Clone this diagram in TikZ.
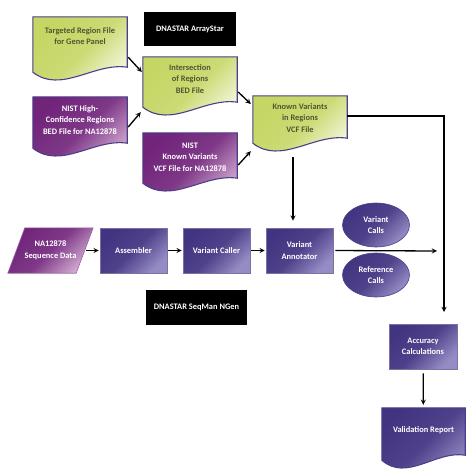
\documentclass[tikz,border=0pt]{standalone}
\usepackage{fontspec}
\setmainfont{Carlito}
\usetikzlibrary{arrows,positioning,shapes.geometric,calc,backgrounds}
\definecolor{greentop}{RGB}{198,214,100}
\definecolor{greenlow}{RGB}{246,248,226}
\definecolor{plumtop}{RGB}{112,36,122}
\definecolor{plumlow}{RGB}{210,172,210}
\definecolor{inktop}{RGB}{66,52,128}
\definecolor{inklow}{RGB}{150,140,196}
\definecolor{docedge}{RGB}{76,62,138}
\definecolor{docink}{RGB}{84,84,52}
\tikzset{node distance=83pt, auto}
% paper sheet with a wavy lower edge, drawn behind a node
\newcommand{\docshape}[3]{%
  \path[#1] (#2.north west) -- (#2.north east)
    -- ($(#2.south east)+(0,{#3-5})$)
    .. controls ($(#2.south west)!0.65!(#2.south east)+(0,{#3-10})$)
    and ($(#2.south west)!0.3!(#2.south east)+(0,{#3+22})$)
    .. ($(#2.south west)+(0,#3)$) -- cycle;}

\begin{document}
\begin{tikzpicture}[x=1pt, y=-1pt,
    font=\fontsize{8.4}{11.5}\selectfont\bfseries,
    doc/.style={align=center, inner sep=1pt, minimum width=94pt},
    greendoc/.style={doc, text=docink},
    plumdoc/.style={doc, text=white},
    greenshade/.style={draw=docedge, line width=1.1pt, top color=greentop, bottom color=greenlow, middle color=greentop!88!greenlow, shading angle=45},
    plumshade/.style={draw=docedge, line width=1.1pt, top color=plumtop, bottom color=plumlow, middle color=plumtop!85!plumlow, shading angle=45},
    inkshade/.style={draw=docedge, line width=1.1pt, top color=inktop, bottom color=inklow, middle color=inktop!85!inklow, shading angle=45},
    proc/.style={rectangle, draw=inktop!70!white, line width=0.6pt, top color=inktop, bottom color=inklow, middle color=inktop!85!inklow, shading angle=45, text=white, align=center, minimum width=67pt, minimum height=45pt, inner sep=1pt},
    seqdata/.style={rectangle, text=white, align=center, minimum width=85pt, minimum height=45pt, inner sep=1pt},
    seqshade/.style={draw=plumtop!70!white, line width=0.6pt, top color=plumtop, bottom color=plumlow, middle color=plumtop!85!plumlow, shading angle=45},
    calls/.style={proc, ellipse, minimum width=67pt, minimum height=44pt, inner sep=0pt, draw=docedge},
    tag/.style={rectangle, fill=black, text=white, inner sep=1pt},
    arr/.style={-stealth, line width=1.3pt}]
  \useasboundingbox (0,0) rectangle (474,474);

  % ArrayStar part
  \node (tgt) 		[greendoc, minimum height=38pt] at (80,36) 	{Targeted Region File\\for Gene Panel};
  \node (astar) 	[tag, minimum width=92pt, minimum height=34pt] at (190,29) {DNASTAR ArrayStar};
  \node (isect) 	[greendoc, minimum height=44pt] at (190,79) 	{Intersection\\of Regions\\BED File};
  \node (hcr) 		[plumdoc, minimum height=46pt] at (80,120) 	{NIST High-\\Confidence Regions\\BED File for NA12878};
  \node (nistvcf) [plumdoc, minimum height=48pt] at (190,157) 	{NIST\\Known Variants\\VCF File for NA12878};
  \node (known) 	[greendoc, minimum height=44pt] at (300,118) 	{Known Variants\\in Regions\\VCF File};
  %
  % SeqMan NGen part
  \node (na) 			[seqdata] at (50.5,250.5) 		{NA12878\\Sequence Data};
  \node (asm) 		[proc, right of=na] 				{Assembler};
  \node (caller) 	[proc, right of=asm] 				{Variant Caller};
  \node (ann) 		[proc, right of=caller] 		{Variant\\Annotator};
  \node (vcalls) 	[calls] at (376,225) 				{Variant\\Calls};
  \node (rcalls) 	[calls, below of=vcalls, node distance=50pt] {Reference\\Calls};
  \node (ngen) 		[tag, minimum width=101pt, minimum height=35pt] at (196.5,307.5) {DNASTAR SeqMan NGen};
  \node (acc) 		[proc, minimum width=68pt] at (423,346.5) {Accuracy\\Calculations};
  \node (valrep) 	[plumdoc, minimum width=83pt, minimum height=44pt] at (423.5,430) {Validation Report};
  \coordinate (accin) 		at (444,312);
  \coordinate (callsout) 	at (437,251);
  %
  \begin{pgfonlayer}{background}
    \docshape{greenshade}{tgt}{17}
    \docshape{greenshade}{isect}{6}
    \docshape{plumshade}{hcr}{5}
    \docshape{plumshade}{nistvcf}{2}
    \docshape{greenshade}{known}{3}
    \docshape{inkshade}{valrep}{8}
    \path[seqshade] (na.south west) -- ([xshift=17pt]na.north west) -- (na.north east) -- ([xshift=-17pt]na.south east) -- cycle;
  \end{pgfonlayer}
  %
  \draw[arr] ([xshift=1pt,yshift=-2pt]tgt.south east) 	to ([xshift=-1pt,yshift=7pt]isect.west);
  \draw[arr] ([xshift=1pt,yshift=-7pt]hcr.east) 				to ([xshift=-2pt,yshift=-11pt]isect.south west);
  \draw[arr] ([xshift=1pt,yshift=-13pt]isect.east) 			to ([xshift=-2pt,yshift=14pt]known.west);
  \draw[arr] ([xshift=1pt,yshift=-8pt]nistvcf.east) 		to ([xshift=-2pt,yshift=-11pt]known.south west);
  \draw[arr] ([xshift=-7pt,yshift=-17pt]known.south) 		to ([xshift=-6.5pt,yshift=7pt]ann.north);
  \draw[arr] ([yshift=2pt]known.east) -- ([yshift=2pt]known.east -| accin) -- (accin);
  \draw[arr, shorten >=1pt] ([xshift=-7pt]na.east) 		to (asm);
  \draw[arr, shorten <=1pt, shorten >=1pt] (asm) 		to (caller);
  \draw[arr, shorten <=1pt, shorten >=1pt] (caller) to (ann);
  \draw[arr, shorten <=2pt] (ann.east) 	to (callsout);
  \draw[arr, shorten <=4pt, shorten >=3pt] (acc) 	to (valrep);
\end{tikzpicture}
\end{document}
